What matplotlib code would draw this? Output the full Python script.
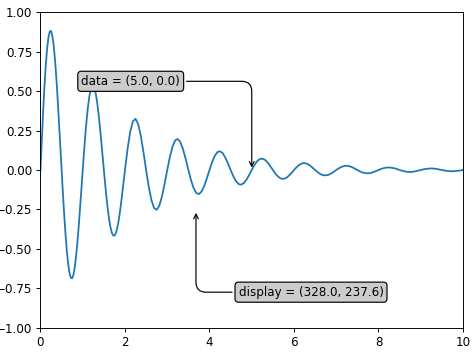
import numpy as np
import matplotlib
matplotlib.use("Agg")
import matplotlib.pyplot as plt

# damped oscillation: first two periods read every 1/32, the rest every 1/16
y_fine = [
    0.000, 0.192, 0.371, 0.530, 0.664, 0.769, 0.841, 0.879,
    0.883, 0.852, 0.790, 0.700, 0.586, 0.453, 0.308, 0.154,
    0.000, -0.150, -0.289, -0.413, -0.517, -0.599, -0.655, -0.685,
    -0.687, -0.664, -0.615, -0.545, -0.457, -0.353, -0.239, -0.120,
    0.000, 0.117, 0.225, 0.322, 0.403, 0.466, 0.510, 0.533,
    0.535, 0.517, 0.479, 0.425, 0.356, 0.275, 0.187, 0.094,
    0.000, -0.091, -0.175, -0.250, -0.314, -0.363, -0.397, -0.415,
    -0.417, -0.403, -0.373, -0.331, -0.277, -0.214, -0.145, -0.073,
]
y_coarse = [
    0.000, 0.136, 0.244, 0.309, 0.325, 0.291, 0.216, 0.113,
    0.000, -0.106, -0.190, -0.241, -0.253, -0.226, -0.168, -0.088,
    0.000, 0.083, 0.148, 0.188, 0.197, 0.176, 0.131, 0.069,
    0.000, -0.064, -0.115, -0.146, -0.153, -0.137, -0.102, -0.053,
    0.000, 0.050, 0.090, 0.114, 0.119, 0.107, 0.079, 0.042,
    0.000, -0.039, -0.070, -0.089, -0.093, -0.083, -0.062, -0.032,
    0.000, 0.030, 0.055, 0.069, 0.072, 0.065, 0.048, 0.025,
    0.000, -0.024, -0.042, -0.054, -0.056, -0.051, -0.037, -0.020,
    0.000, 0.018, 0.033, 0.042, 0.044, 0.039, 0.029, 0.015,
    0.000, -0.014, -0.026, -0.033, -0.034, -0.031, -0.023, -0.012,
    0.000, 0.011, 0.020, 0.025, 0.027, 0.024, 0.018, 0.009,
    0.000, -0.009, -0.016, -0.020, -0.021, -0.019, -0.014, -0.007,
    0.000, 0.007, 0.012, 0.015, 0.016, 0.014, 0.011, 0.006,
    0.000, -0.005, -0.009, -0.012, -0.013, -0.011, -0.008, -0.004,
    0.000, 0.004, 0.007, 0.009, 0.010, 0.009, 0.007, 0.003,
    0.000, -0.003, -0.006, -0.007, -0.008, -0.007, -0.005, -0.003,
    0.000,
]
x_fine = np.arange(len(y_fine)) / 32
x_coarse = 2 + np.arange(len(y_coarse)) / 16

data_point = (5.0, 0.0)
display_point = (3.68, -0.257)   # where the display arrow lands on screen
data_label = "data = (5.0, 0.0)"
display_label = "display = (328.0, 237.6)"

dpi = 85.2
fig = plt.figure(figsize=(474 / dpi, 353 / dpi), dpi=dpi)
ax = fig.add_axes([0.0854, 0.0722, 0.8914, 0.8924])
ax.plot(np.concatenate([x_fine, x_coarse]), y_fine + y_coarse)
ax.set_xlim(0, 10)
ax.set_ylim(-1, 1)

bbox = dict(boxstyle="round", fc="0.8")
arrowprops = dict(arrowstyle="->",
                  connectionstyle="angle,angleA=0,angleB=90,rad=10")
offset = 72
ax.annotate(data_label, data_point,
            xytext=(-2 * offset, offset), textcoords="offset points",
            bbox=bbox, arrowprops=arrowprops)
ax.annotate(display_label, display_point,
            xytext=(0.5 * offset, -offset), textcoords="offset points",
            bbox=bbox, arrowprops=arrowprops)

fig.savefig("out.png", dpi=dpi)
